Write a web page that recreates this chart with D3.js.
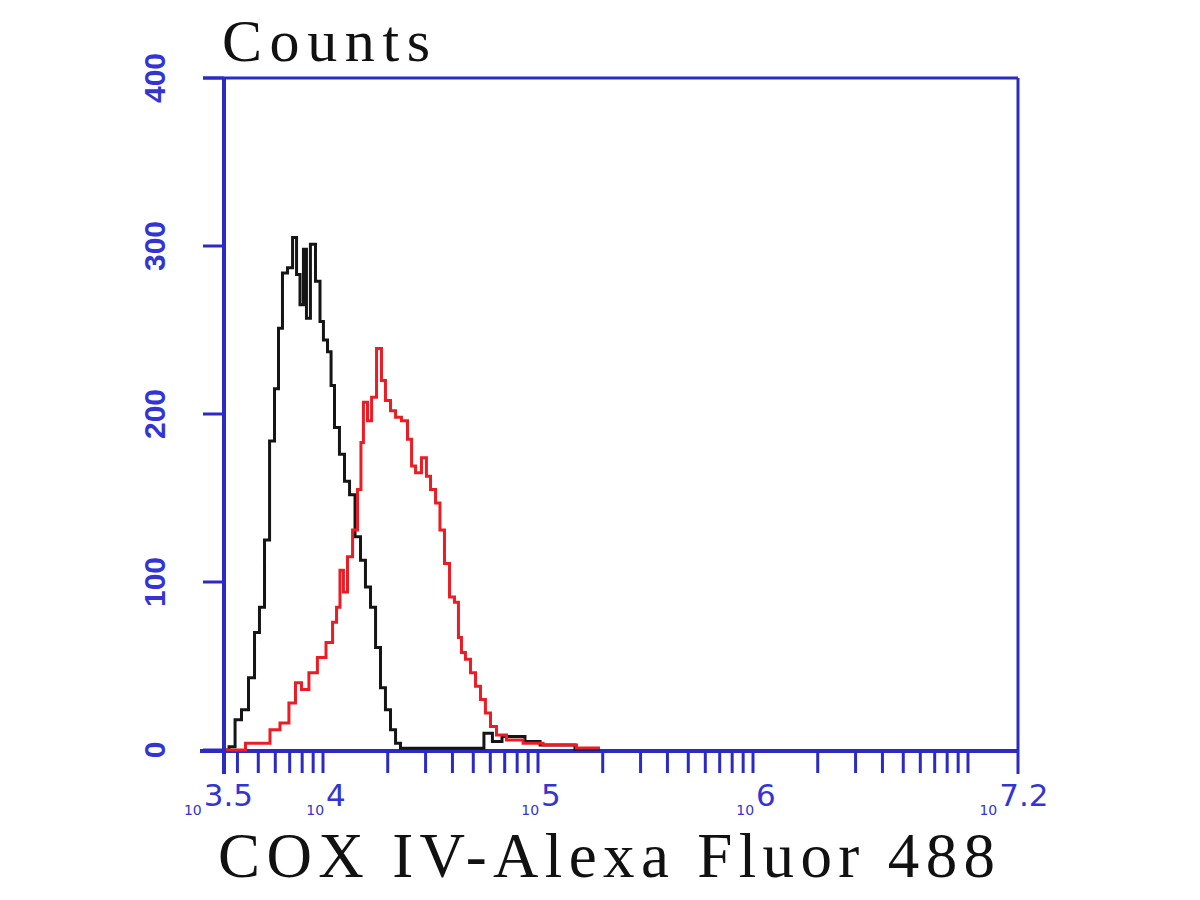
<!DOCTYPE html>
<html>
<head>
<meta charset="utf-8">
<script src="https://cdn.jsdelivr.net/npm/d3@7"></script>
<style>
body { margin: 0; background: #fff; }
</style>
</head>
<body>
<div id="chart"></div>
<script>
// histogram readings: log10 of fluorescence and counts
var isoLog = [3.549, 3.577, 3.605, 3.637, 3.670, 3.693, 3.716, 3.740, 3.763, 3.786, 3.800, 3.823, 3.847, 3.870,
    3.884, 3.902, 3.916, 3.930, 3.953, 3.977, 3.995, 4.009, 4.033, 4.042, 4.065, 4.088, 4.112, 4.135, 4.163,
    4.186, 4.209, 4.233, 4.256, 4.279, 4.302, 4.326, 4.349, 4.372, 4.730, 4.767, 4.809, 4.856, 4.916, 4.963,
    5.056, 5.288];
var isoCounts = [0, 2, 18, 24, 43, 70, 85, 125, 184, 215, 251, 284, 287, 305,
    283, 265, 298, 257, 301, 279, 255, 244, 237, 217, 192, 176, 160, 152, 127,
    113, 97, 85, 61, 37, 24, 12, 4, 1, 1, 10, 5, 8, 8, 5,
    3, 0.6];

var coxLog = [3.549, 3.730, 3.777, 3.823, 3.860, 3.884, 3.916, 3.953, 3.995, 4.033, 4.056, 4.070, 4.088, 4.102,
    4.126, 4.149, 4.172, 4.181, 4.195, 4.219, 4.233, 4.265, 4.279, 4.302, 4.326, 4.349, 4.381, 4.405, 4.419,
    4.442, 4.474, 4.488, 4.512, 4.535, 4.553, 4.577, 4.600, 4.623, 4.637, 4.651, 4.674, 4.698, 4.721, 4.744,
    4.767, 4.791, 4.823, 4.884, 4.977, 5.070, 5.288];
var coxCounts = [0, 4, 12, 16, 28, 40, 36, 46, 55, 64, 76, 85, 107, 94,
    115, 131, 155, 183, 207, 196, 210, 239, 220, 208, 202, 198, 196, 185, 169,
    165, 174, 163, 155, 147, 131, 111, 91, 88, 67, 58, 54, 46, 38, 30,
    22, 14, 9, 6, 4, 3, 1.2];

var yTicks = [0, 100, 200, 300, 400];
var xLabelLogs = [3.5, 4, 5, 6, 7.2];
var xLabelExps = ['3.5', '4', '5', '6', '7.2'];

var axisBlue = '#2b2bc4';
var labelBlue = '#3434d2';

var svg = d3.select('#chart').append('svg')
    .attr('width', 1200)
    .attr('height', 900);

svg.append('rect').attr('width', 1200).attr('height', 900).attr('fill', '#fff');

var plotLeft = 224, plotRight = 1018, plotTop = 78, plotBottom = 751;

var xScale = d3.scaleLog()
    .domain([Math.pow(10, 3.5), Math.pow(10, 7.2)])
    .range([215.5, 1011]);

var yScale = d3.scaleLinear()
    .domain([0, 400])
    .range([750, 78]);

// frame
svg.append('line').attr('x1', 203).attr('x2', plotRight).attr('y1', plotTop).attr('y2', plotTop)
    .attr('stroke', axisBlue).attr('stroke-width', 3);
svg.append('line').attr('x1', 200).attr('x2', plotRight).attr('y1', plotBottom).attr('y2', plotBottom)
    .attr('stroke', axisBlue).attr('stroke-width', 4);
svg.append('line').attr('x1', plotLeft).attr('x2', plotLeft).attr('y1', plotTop).attr('y2', 774)
    .attr('stroke', axisBlue).attr('stroke-width', 4);
svg.append('line').attr('x1', plotRight).attr('x2', plotRight).attr('y1', plotTop).attr('y2', 774)
    .attr('stroke', axisBlue).attr('stroke-width', 3);

// y ticks
svg.selectAll('.ytick')
    .data(yTicks)
    .enter()
    .append('line')
    .attr('class', 'ytick')
    .attr('x1', 203).attr('x2', plotLeft)
    .attr('y1', function(d){ return yScale(d); })
    .attr('y2', function(d){ return yScale(d); })
    .attr('stroke', axisBlue).attr('stroke-width', 3);

svg.selectAll('.ylab')
    .data(yTicks)
    .enter()
    .append('text')
    .attr('class', 'ylab')
    .attr('transform', function(d){ return 'translate(165,' + yScale(d) + ') rotate(-90)'; })
    .attr('text-anchor', 'middle')
    .attr('font-family', 'Liberation Sans, Arial, sans-serif')
    .attr('font-weight', 'bold')
    .attr('font-size', 30)
    .attr('fill', labelBlue)
    .text(function(d){ return d; });

// x ticks (decades + minor)
var xTicks = [];
for (let n = 3; n <= 7; n++) {
    for (let k = 1; k <= 9; k++) {
        let v = k * Math.pow(10, n);
        let px = xScale(v);
        if (px > plotLeft + 4 && px < plotRight - 4) {
            xTicks.push(v);
        }
    }
}
svg.selectAll('.xtick')
    .data(xTicks)
    .enter()
    .append('line')
    .attr('class', 'xtick')
    .attr('x1', function(d){ return xScale(d); })
    .attr('x2', function(d){ return xScale(d); })
    .attr('y1', plotBottom).attr('y2', 773)
    .attr('stroke', axisBlue).attr('stroke-width', 3);

// x labels: small "10" followed by the exponent
xLabelLogs.forEach(function(d, i){
    var cx = xScale(Math.pow(10, d)) + 3;
    var base = svg.append('text')
        .attr('y', 815)
        .attr('font-family', 'DejaVu Sans, sans-serif')
        .attr('font-size', 14)
        .attr('fill', labelBlue)
        .text('10');
    var exp = svg.append('text')
        .attr('y', 806)
        .attr('font-family', 'DejaVu Sans, sans-serif')
        .attr('font-size', 31)
        .attr('fill', labelBlue)
        .text(xLabelExps[i]);
    var wb = base.node().getComputedTextLength();
    var we = exp.node().getComputedTextLength();
    var x0 = cx - (wb + we + 2) / 2;
    base.attr('x', x0);
    exp.attr('x', x0 + wb + 2);
});

// histograms
var line = d3.line()
    .x(function(d){ return xScale(Math.pow(10, d[0])); })
    .y(function(d){ return yScale(d[1]); })
    .curve(d3.curveStep);

var isoData = isoLog.map(function(v, i){ return [v, isoCounts[i]]; });
var coxData = coxLog.map(function(v, i){ return [v, coxCounts[i]]; });

svg.append('path')
    .datum(isoData)
    .attr('d', line)
    .attr('fill', 'none')
    .attr('stroke', '#151515')
    .attr('stroke-width', 3);

svg.append('path')
    .datum(coxData)
    .attr('d', line)
    .attr('fill', 'none')
    .attr('stroke', '#ec1c24')
    .attr('stroke-width', 3);

// titles
svg.append('text')
    .attr('x', 222).attr('y', 61)
    .attr('font-family', 'Liberation Serif, Times New Roman, serif')
    .attr('font-size', 60)
    .attr('textLength', 208)
    .attr('lengthAdjust', 'spacing')
    .attr('fill', '#111')
    .text('Counts');

svg.append('text')
    .attr('x', 218).attr('y', 877)
    .attr('font-family', 'Liberation Serif, Times New Roman, serif')
    .attr('font-size', 63)
    .attr('textLength', 777)
    .attr('lengthAdjust', 'spacing')
    .attr('fill', '#111')
    .text('COX IV-Alexa Fluor 488');
</script>
</body>
</html>
